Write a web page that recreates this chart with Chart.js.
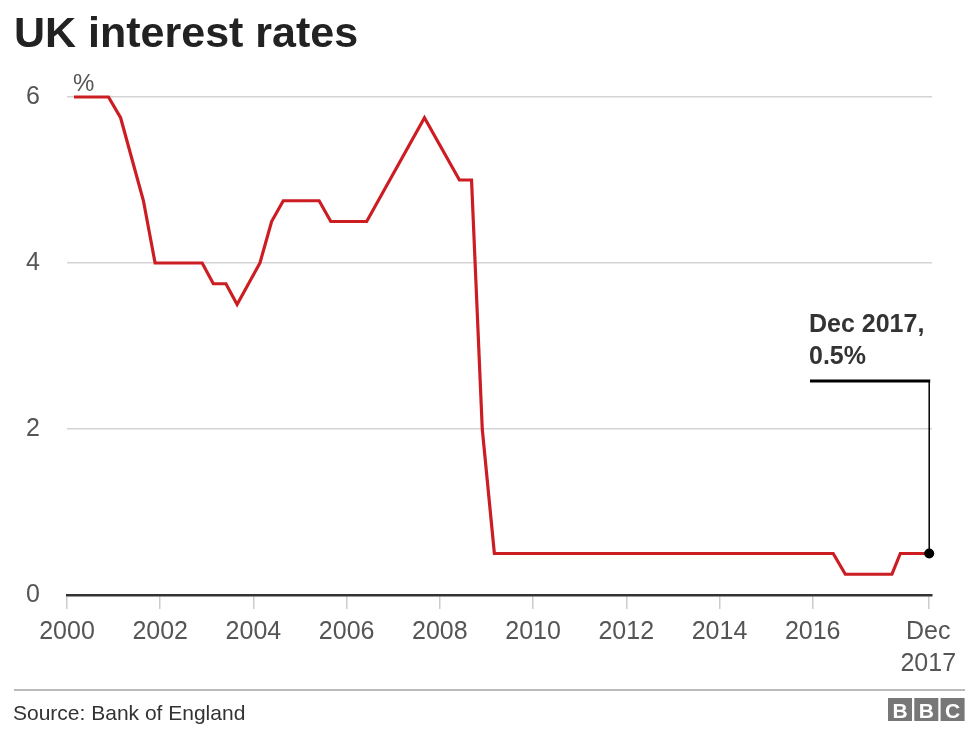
<!DOCTYPE html>
<html>
<head>
<meta charset="utf-8">
<title>UK interest rates</title>
<script src="https://cdn.jsdelivr.net/npm/chart.js@4.4.1/dist/chart.umd.min.js"></script>
<style>
  html, body { margin: 0; padding: 0; background: #fff; }
  #wrap { position: relative; width: 976px; height: 742px; }
</style>
</head>
<body>
<div id="wrap"><canvas id="rates"></canvas></div>
<script>
// Bank Rate (x = position in decimal years)
var years = [2000.15, 2000.89, 2001.15, 2001.64, 2001.89, 2002.90, 2003.14, 2003.41, 2003.65,
  2004.14, 2004.39, 2004.64, 2005.41, 2005.66, 2006.43, 2007.67, 2008.42, 2008.68, 2008.91,
  2009.17, 2016.44, 2016.70, 2017.70, 2017.88, 2018.50];
var rates = [6.0, 6.0, 5.75, 4.75, 4.0, 4.0, 3.75, 3.75, 3.5,
  4.0, 4.5, 4.75, 4.75, 4.5, 4.5, 5.75, 5.0, 5.0, 2.0,
  0.5, 0.5, 0.25, 0.25, 0.5, 0.5];
var xTicks = [2000, 2002, 2004, 2006, 2008, 2010, 2012, 2014, 2016, 2018.48];
var xLabels = ['2000', '2002', '2004', '2006', '2008', '2010', '2012', '2014', '2016', ['Dec', '2017']];
var yTicks = [0, 2, 4, 6];

var FONT = '"Liberation Sans", Arial, Helvetica, sans-serif';
var last = years.length - 1;

var points = years.map(function (x, i) { return { x: x, y: rates[i] }; });

var extras = {
  id: 'extras',
  beforeDatasetsDraw: function (chart) {
    var c = chart.ctx;
    var px = chart.scales.x.getPixelForValue(years[last]);
    var py = chart.scales.y.getPixelForValue(rates[last]);
    c.save();
    c.strokeStyle = '#000';
    c.lineWidth = 3;
    c.beginPath();
    c.moveTo(810, 381);
    c.lineTo(px + 1, 381);
    c.stroke();
    c.lineWidth = 1.5;
    c.beginPath();
    c.moveTo(px, 381);
    c.lineTo(px, py);
    c.stroke();
    c.restore();
  },
  afterDraw: function (chart) {
    var c = chart.ctx;
    c.save();
    c.textBaseline = 'alphabetic';
    c.textAlign = 'left';

    c.fillStyle = '#222';
    c.font = 'bold 43px ' + FONT;
    c.fillText('UK interest rates', 14, 47);

    c.fillStyle = '#555';
    c.font = '24px ' + FONT;
    c.fillText('%', 73, 91);

    c.fillStyle = '#333';
    c.font = 'bold 25px ' + FONT;
    c.fillText('Dec 2017,', 809, 332);
    c.fillText('0.5%', 809, 364);

    // footer
    c.strokeStyle = '#bbb';
    c.lineWidth = 2;
    c.beginPath();
    c.moveTo(14, 690);
    c.lineTo(965, 690);
    c.stroke();

    c.fillStyle = '#333';
    c.font = '21px ' + FONT;
    c.fillText('Source: Bank of England', 13, 720);

    // BBC blocks
    var letters = ['B', 'B', 'C'];
    c.font = 'bold 21px ' + FONT;
    c.textAlign = 'center';
    for (var i = 0; i < 3; i++) {
      var bx = 888 + i * 26.3;
      c.fillStyle = '#777';
      c.fillRect(bx, 698, 24, 23);
      c.fillStyle = '#fff';
      c.fillText(letters[i], bx + 12, 718);
    }
    c.restore();
  }
};

new Chart(document.getElementById('rates'), {
  type: 'line',
  data: {
    datasets: [{
      label: 'Bank Rate',
      data: points,
      borderColor: '#cc1d23',
      borderWidth: 3.2,
      fill: false,
      tension: 0,
      borderJoinStyle: 'miter',
      pointRadius: function (ctx) { return ctx.dataIndex === last ? 5 : 0; },
      pointBackgroundColor: '#000',
      pointBorderWidth: 0,
      clip: false
    }]
  },
  options: {
    responsive: true,
    maintainAspectRatio: false,
    animation: false,
    events: [],
    layout: { padding: { left: 0, right: 44, top: 97, bottom: 57 } },
    plugins: { legend: { display: false }, tooltip: { enabled: false } },
    scales: {
      x: {
        type: 'linear',
        min: 2000,
        max: 2018.56,
        afterBuildTicks: function (scale) {
          scale.ticks = xTicks.map(function (v) { return { value: v }; });
        },
        afterFit: function (scale) { scale.height = 90; },
        grid: { drawOnChartArea: false, drawTicks: true, tickLength: 14, color: '#ccc', lineWidth: 1.5 },
        border: { display: true, color: '#333', width: 2.5 },
        ticks: {
          padding: 7,
          maxRotation: 0,
          autoSkip: false,
          color: '#555',
          font: { family: FONT, size: 25, lineHeight: 1.28 },
          callback: function (v, i) { return xLabels[i]; }
        }
      },
      y: {
        min: 0,
        max: 6,
        afterBuildTicks: function (scale) {
          scale.ticks = yTicks.map(function (v) { return { value: v }; });
        },
        afterFit: function (scale) { scale.width = 67; },
        grid: { drawTicks: false, color: '#d4d4d4', lineWidth: 1.5 },
        border: { display: false },
        ticks: {
          padding: 27,
          color: '#555',
          font: { family: FONT, size: 25 }
        }
      }
    }
  },
  plugins: [extras]
});
</script>
</body>
</html>
